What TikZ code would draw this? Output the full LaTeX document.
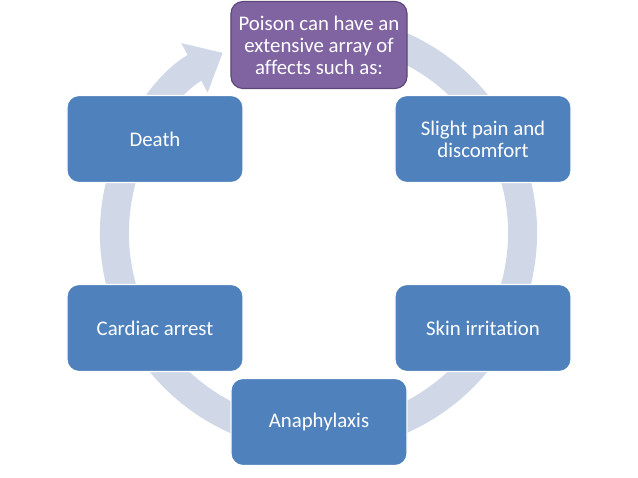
\documentclass[tikz,border=0pt]{standalone}
\usepackage{fontspec}
\setmainfont{Carlito}[Ligatures=NoCommon]
\usetikzlibrary{arrows.meta}
\definecolor{azulcaja}{RGB}{79,129,189}
\definecolor{morado}{RGB}{128,100,162}
\definecolor{moradoosc}{RGB}{92,71,118}
\definecolor{anillo}{RGB}{208,216,232}

\begin{document}
\begin{tikzpicture}[x=0.025cm, y=0.025cm,
    caja/.style={draw=white, line width=0.8pt, fill=azulcaja, text=white,
      rounded corners=0.3cm, minimum width=4.4cm, minimum height=2.175cm,
      align=center, font=\fontsize{14.8}{15.6}\selectfont},
    cajatop/.style={caja, fill=morado, draw=moradoosc}]
    \useasboundingbox (0,0) rectangle (638,478);
    % anillo con flecha
    \coordinate (centro) at (318.5,245);
    \draw[anillo, line width=0.725cm, -{Triangle[width=1.35cm, length=0.8cm]}]
      ([shift={(80:5.1cm)}]centro) arc[start angle=80, end angle=-242, radius=5.1cm];
    % cajas
    \node[cajatop] (poison) at (319,433) {Poison can have an\\extensive array of\\affects such as:};
    \node[caja] (slight) at (483,339) {Slight pain and\\discomfort};
    \node[caja] (skin) at (483,150) {Skin irritation};
    \node[caja] (anaph) at (319,56) {Anaphylaxis};
    \node[caja] (cardiac) at (155,150) {Cardiac arrest};
    \node[caja] (death) at (155,339) {Death};
  \end{tikzpicture}
\end{document}
